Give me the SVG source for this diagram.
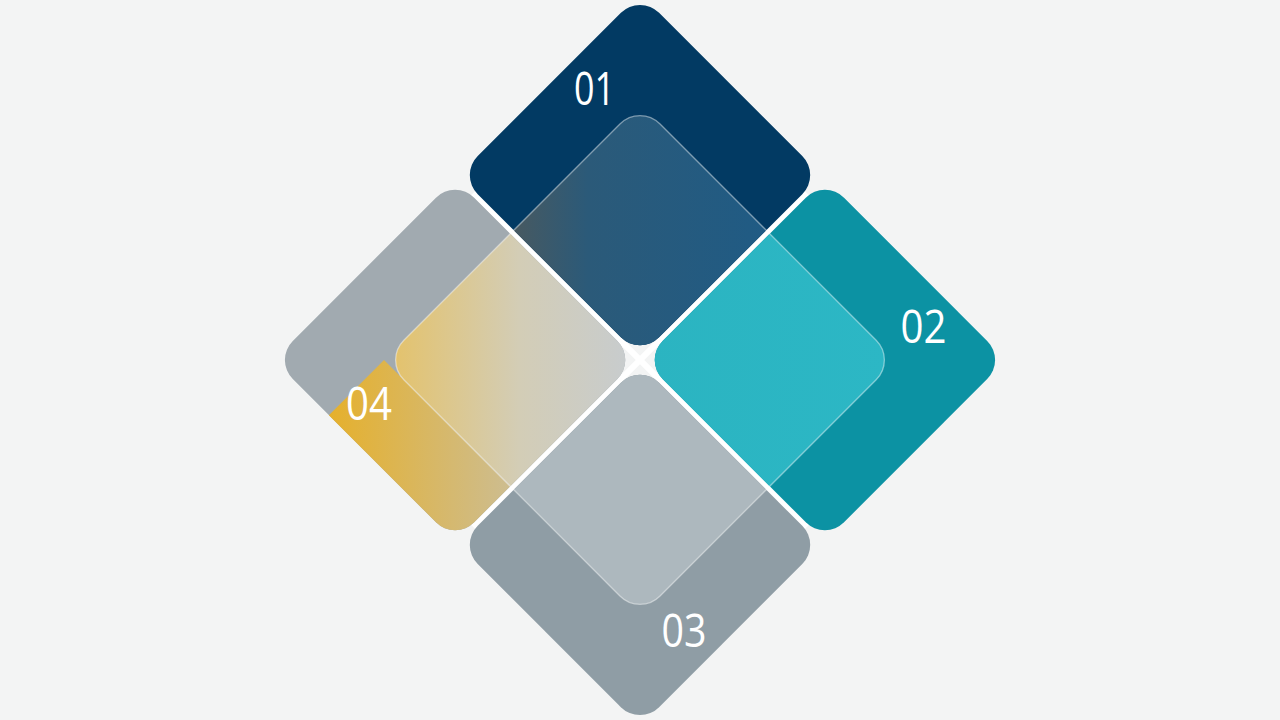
<svg xmlns="http://www.w3.org/2000/svg" width="1280" height="720" viewBox="0 0 1280 720">
<style>
.num{font-family:"Open Sans","Noto Sans","Liberation Sans",sans-serif;font-weight:400;font-size:45px;fill:#ffffff;text-anchor:middle}
.outline{fill:none;stroke:#ffffff;stroke-opacity:0.45;stroke-width:1.3}
</style>
<defs>
<linearGradient id="g1in" gradientUnits="userSpaceOnUse" gradientTransform="rotate(-45)" x1="-128" y1="0" x2="125" y2="0">
<stop offset="0" stop-color="#485960"/>
<stop offset="0.3" stop-color="#2b5a79"/>
<stop offset="1" stop-color="#205b84"/>
</linearGradient>
<linearGradient id="g2in" gradientUnits="userSpaceOnUse" gradientTransform="rotate(-45)" x1="0" y1="0" x2="250" y2="0">
<stop offset="0" stop-color="#2bb4c1"/>
<stop offset="1" stop-color="#2cb7c5"/>
</linearGradient>
<linearGradient id="g4band" gradientUnits="userSpaceOnUse" gradientTransform="rotate(-45)" x1="-315" y1="0" x2="-130" y2="0">
<stop offset="0" stop-color="#e6b02a"/>
<stop offset="1" stop-color="#cdbd90"/>
</linearGradient>
<linearGradient id="g4in" gradientUnits="userSpaceOnUse" gradientTransform="rotate(-45)" x1="-250" y1="0" x2="-15" y2="0">
<stop offset="0" stop-color="#e4c26a"/>
<stop offset="0.55" stop-color="#d3cdb6"/>
<stop offset="1" stop-color="#c8cccd"/>
</linearGradient>
</defs>
<rect x="0" y="0" width="1280" height="720" fill="#f3f4f4"/>
<g id="gaps" transform="translate(640,360) rotate(45)">
<rect x="-3" y="-236" width="6" height="472" fill="#ffffff"/>
<rect x="-236" y="-3" width="472" height="6" fill="#ffffff"/>
</g>
<g id="node-01">
<g transform="translate(640,360) rotate(45)">
<rect x="-259" y="-259" width="256.5" height="256.5" rx="27" fill="#023a63"/>
<path d="M -153,-181 L -2.5,-181 L -2.5,-29.5 A 27 27 0 0 1 -29.5,-2.5 L -181,-2.5 L -181,-153 A 28 28 0 0 1 -153,-181 Z" fill="url(#g1in)"/>
</g>
<text class="num" x="594.5" y="105" textLength="41" lengthAdjust="spacingAndGlyphs">01</text>
</g>
<g id="node-02">
<g transform="translate(640,360) rotate(45)">
<rect x="2.5" y="-259" width="256.5" height="256.5" rx="27" fill="#0c92a3"/>
<path d="M 2.5,-181 L 153,-181 A 28 28 0 0 1 181,-153 L 181,-2.5 L 29.5,-2.5 A 27 27 0 0 1 2.5,-29.5 Z" fill="url(#g2in)"/>
</g>
<text class="num" x="923.5" y="343" textLength="46" lengthAdjust="spacingAndGlyphs">02</text>
</g>
<g id="node-03">
<g transform="translate(640,360) rotate(45)">
<rect x="2.5" y="2.5" width="256.5" height="256.5" rx="27" fill="#8f9da5"/>
<path d="M 29.5,2.5 L 181,2.5 L 181,153 A 28 28 0 0 1 153,181 L 2.5,181 L 2.5,29.5 A 27 27 0 0 1 29.5,2.5 Z" fill="#adb8be"/>
</g>
<text class="num" x="684" y="647" textLength="45" lengthAdjust="spacingAndGlyphs">03</text>
</g>
<g id="node-04">
<g transform="translate(640,360) rotate(45)">
<rect x="-259" y="2.5" width="256.5" height="256.5" rx="27" fill="#a1aab0"/>
<path d="M -181,181 L -2.5,181 L -2.5,232 A 27 27 0 0 1 -29.5,259 L -181,259 Z" fill="url(#g4band)"/>
<path d="M -181,2.5 L -29.5,2.5 A 27 27 0 0 1 -2.5,29.5 L -2.5,181 L -153,181 A 28 28 0 0 1 -181,153 Z" fill="url(#g4in)"/>
</g>
<text class="num" x="369" y="420" textLength="46" lengthAdjust="spacingAndGlyphs">04</text>
</g>
<g id="center-outline" transform="translate(640,360) rotate(45)">
<rect class="outline" x="-181" y="-181" width="362" height="362" rx="28"/>
</g>
</svg>
